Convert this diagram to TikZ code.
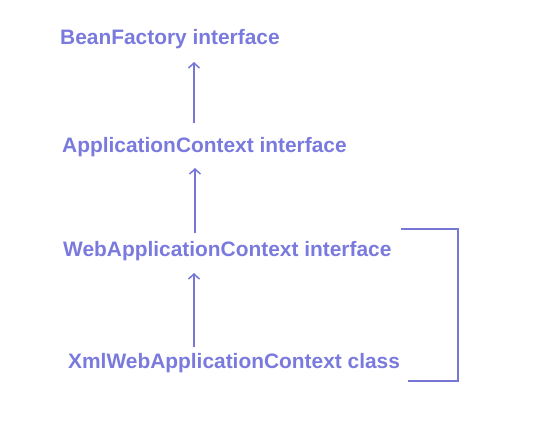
\documentclass[tikz,border=0pt]{standalone}
\usepackage{fontspec}
\setmainfont{Liberation Sans}
\usetikzlibrary{arrows.meta}
\definecolor{lav}{RGB}{122,122,222}
\definecolor{lavline}{RGB}{118,118,212}
\tikzset{
  lbl/.style={anchor=base west, inner sep=0pt, text=lav, font=\fontsize{20.9}{25}\selectfont\bfseries},
  inh/.style={draw=lavline, line width=1.5pt, -{Straight Barb[length=5pt,width=11pt]}},
  brk/.style={draw=lavline, line width=1.5pt}
}
\begin{document}
\begin{tikzpicture}[x=1pt,y=-1pt]
\useasboundingbox (0,0) rectangle (556,432);
\node[lbl] (bf) at (60,44) {BeanFactory interface};
\node[lbl] (ac) at (62,152) {ApplicationContext interface};
\node[lbl] (wac) at (63,256) {WebApplicationContext interface};
\node[lbl] (xwac) at (68,368) {XmlWebApplicationContext class};
\coordinate (a1s) at (194,123);
\coordinate (a1e) at (194,62);
\coordinate (a2s) at (195,233);
\coordinate (a2e) at (195,168);
\coordinate (a3s) at (194,347);
\coordinate (a3e) at (194,273);
\draw[inh] (a1s) -- (a1e);
\draw[inh] (a2s) -- (a2e);
\draw[inh] (a3s) -- (a3e);
\coordinate (b1) at (401,229);
\coordinate (b2) at (458,229);
\coordinate (b3) at (458,381);
\coordinate (b4) at (408,381);
\draw[brk] (b1) -- (b2) -- (b3) -- (b4);
\end{tikzpicture}
\end{document}
